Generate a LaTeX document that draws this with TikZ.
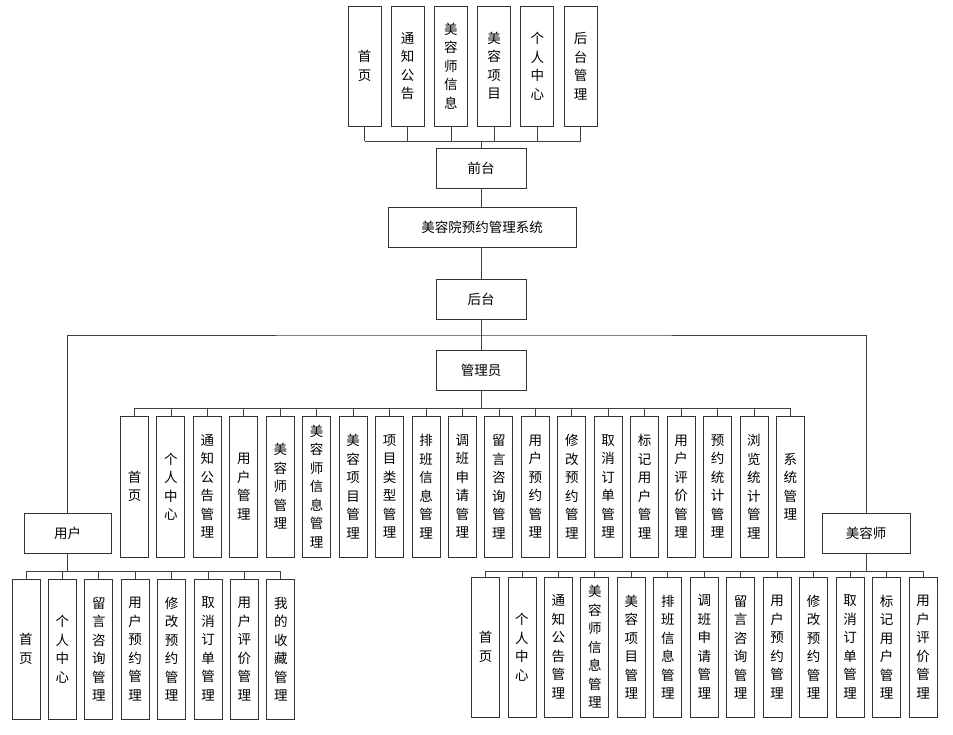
\documentclass[tikz,border=0pt]{standalone}
\usepackage{fontspec}
\setmainfont{Noto Sans CJK SC}
\XeTeXlinebreaklocale "zh"
\XeTeXlinebreakskip=0pt plus 1pt
\newcommand{\fsz}{\fontsize{13.5pt}{18.5pt}\selectfont}
\begin{document}
\begin{tikzpicture}[x=1pt,y=-1pt,
  ln/.style={draw=black!75, line width=0.8pt},
  hbox/.style={draw=black!80, line width=0.9pt, font=\fsz, inner sep=0, minimum width=90pt, minimum height=40pt},
  vbox/.style={draw=black!80, line width=0.9pt, font=\fsz, inner sep=0, text width=14pt, align=center, minimum width=28pt, minimum height=141pt},
  tbox/.style={vbox, minimum width=33pt, minimum height=120pt}]
\useasboundingbox (0,0) rectangle (953,735);
% top
\foreach \t [count=\i] in {首页,通知公告,美容师信息,美容项目,个人中心,后台管理}
  \node[tbox] (t\i) at ({364.5+43.2*(\i-1)},66) {\t};
\node[hbox] (qt) at (481,168) {前台};
\node[hbox, minimum width=188pt] (sys) at (482,227) {美容院预约管理系统};
\node[hbox] (ht) at (481,299) {后台};
\node[hbox] (mgr) at (481,370) {管理员};
\node[hbox, minimum width=87pt] (user) at (67.5,533) {用户};
\node[hbox, minimum width=88pt] (bt) at (866,533) {美容师};
\coordinate (busT) at (481,141);
\foreach \i in {1,...,6} \draw[ln] (t\i.south) -- (t\i.south |- busT);
\draw[ln] (t1.south |- busT) -- (t6.south |- busT);
\draw[ln] (busT) -- (qt.north);
\draw[ln] (qt.south) -- (sys.north -| qt.south);
\draw[ln] (sys.south -| ht.north) -- (ht.north);
\draw[ln] (ht.south) -- (mgr.north);
\coordinate (busB) at (481,335);
\draw[ln] (user.north) |- (busB) -| (bt.north);
% admin
\coordinate (busA) at (481,408);
\foreach \t [count=\i] in {首页,个人中心,通知公告管理,用户管理,美容师管理,美容师信息管理,美容项目管理,项目类型管理,排班信息管理,调班申请管理,留言咨询管理,用户预约管理,修改预约管理,取消订单管理,标记用户管理,用户评价管理,预约统计管理,浏览统计管理,系统管理}{
  \node[vbox] (a\i) at ({134.5+36.44*(\i-1)},486.5) {\t};
  \draw[ln] (a\i.north) -- (a\i.north |- busA);}
\draw[ln] (a1.north |- busA) -- (a19.north |- busA);
\draw[ln] (mgr.south) -- (busA);
% user
\coordinate (busU) at (67.5,571);
\foreach \t [count=\i] in {首页,个人中心,留言咨询管理,用户预约管理,修改预约管理,取消订单管理,用户评价管理,我的收藏管理}{
  \node[vbox, minimum height=140pt] (u\i) at ({26+36.4*(\i-1)},649) {\t};
  \draw[ln] (u\i.north) -- (u\i.north |- busU);}
\draw[ln] (u1.north |- busU) -- (u8.north |- busU);
\draw[ln] (user.south) -- (busU);
% beautician
\coordinate (busM) at (866,571);
\foreach \t [count=\i] in {首页,个人中心,通知公告管理,美容师信息管理,美容项目管理,排班信息管理,调班申请管理,留言咨询管理,用户预约管理,修改预约管理,取消订单管理,标记用户管理,用户评价管理}{
  \node[vbox, minimum height=140pt] (m\i) at ({485.5+36.46*(\i-1)},647) {\t};
  \draw[ln] (m\i.north) -- (m\i.north |- busM);}
\draw[ln] (m1.north |- busM) -- (m13.north |- busM);
\draw[ln] (bt.south) -- (busM);
\end{tikzpicture}
\end{document}
